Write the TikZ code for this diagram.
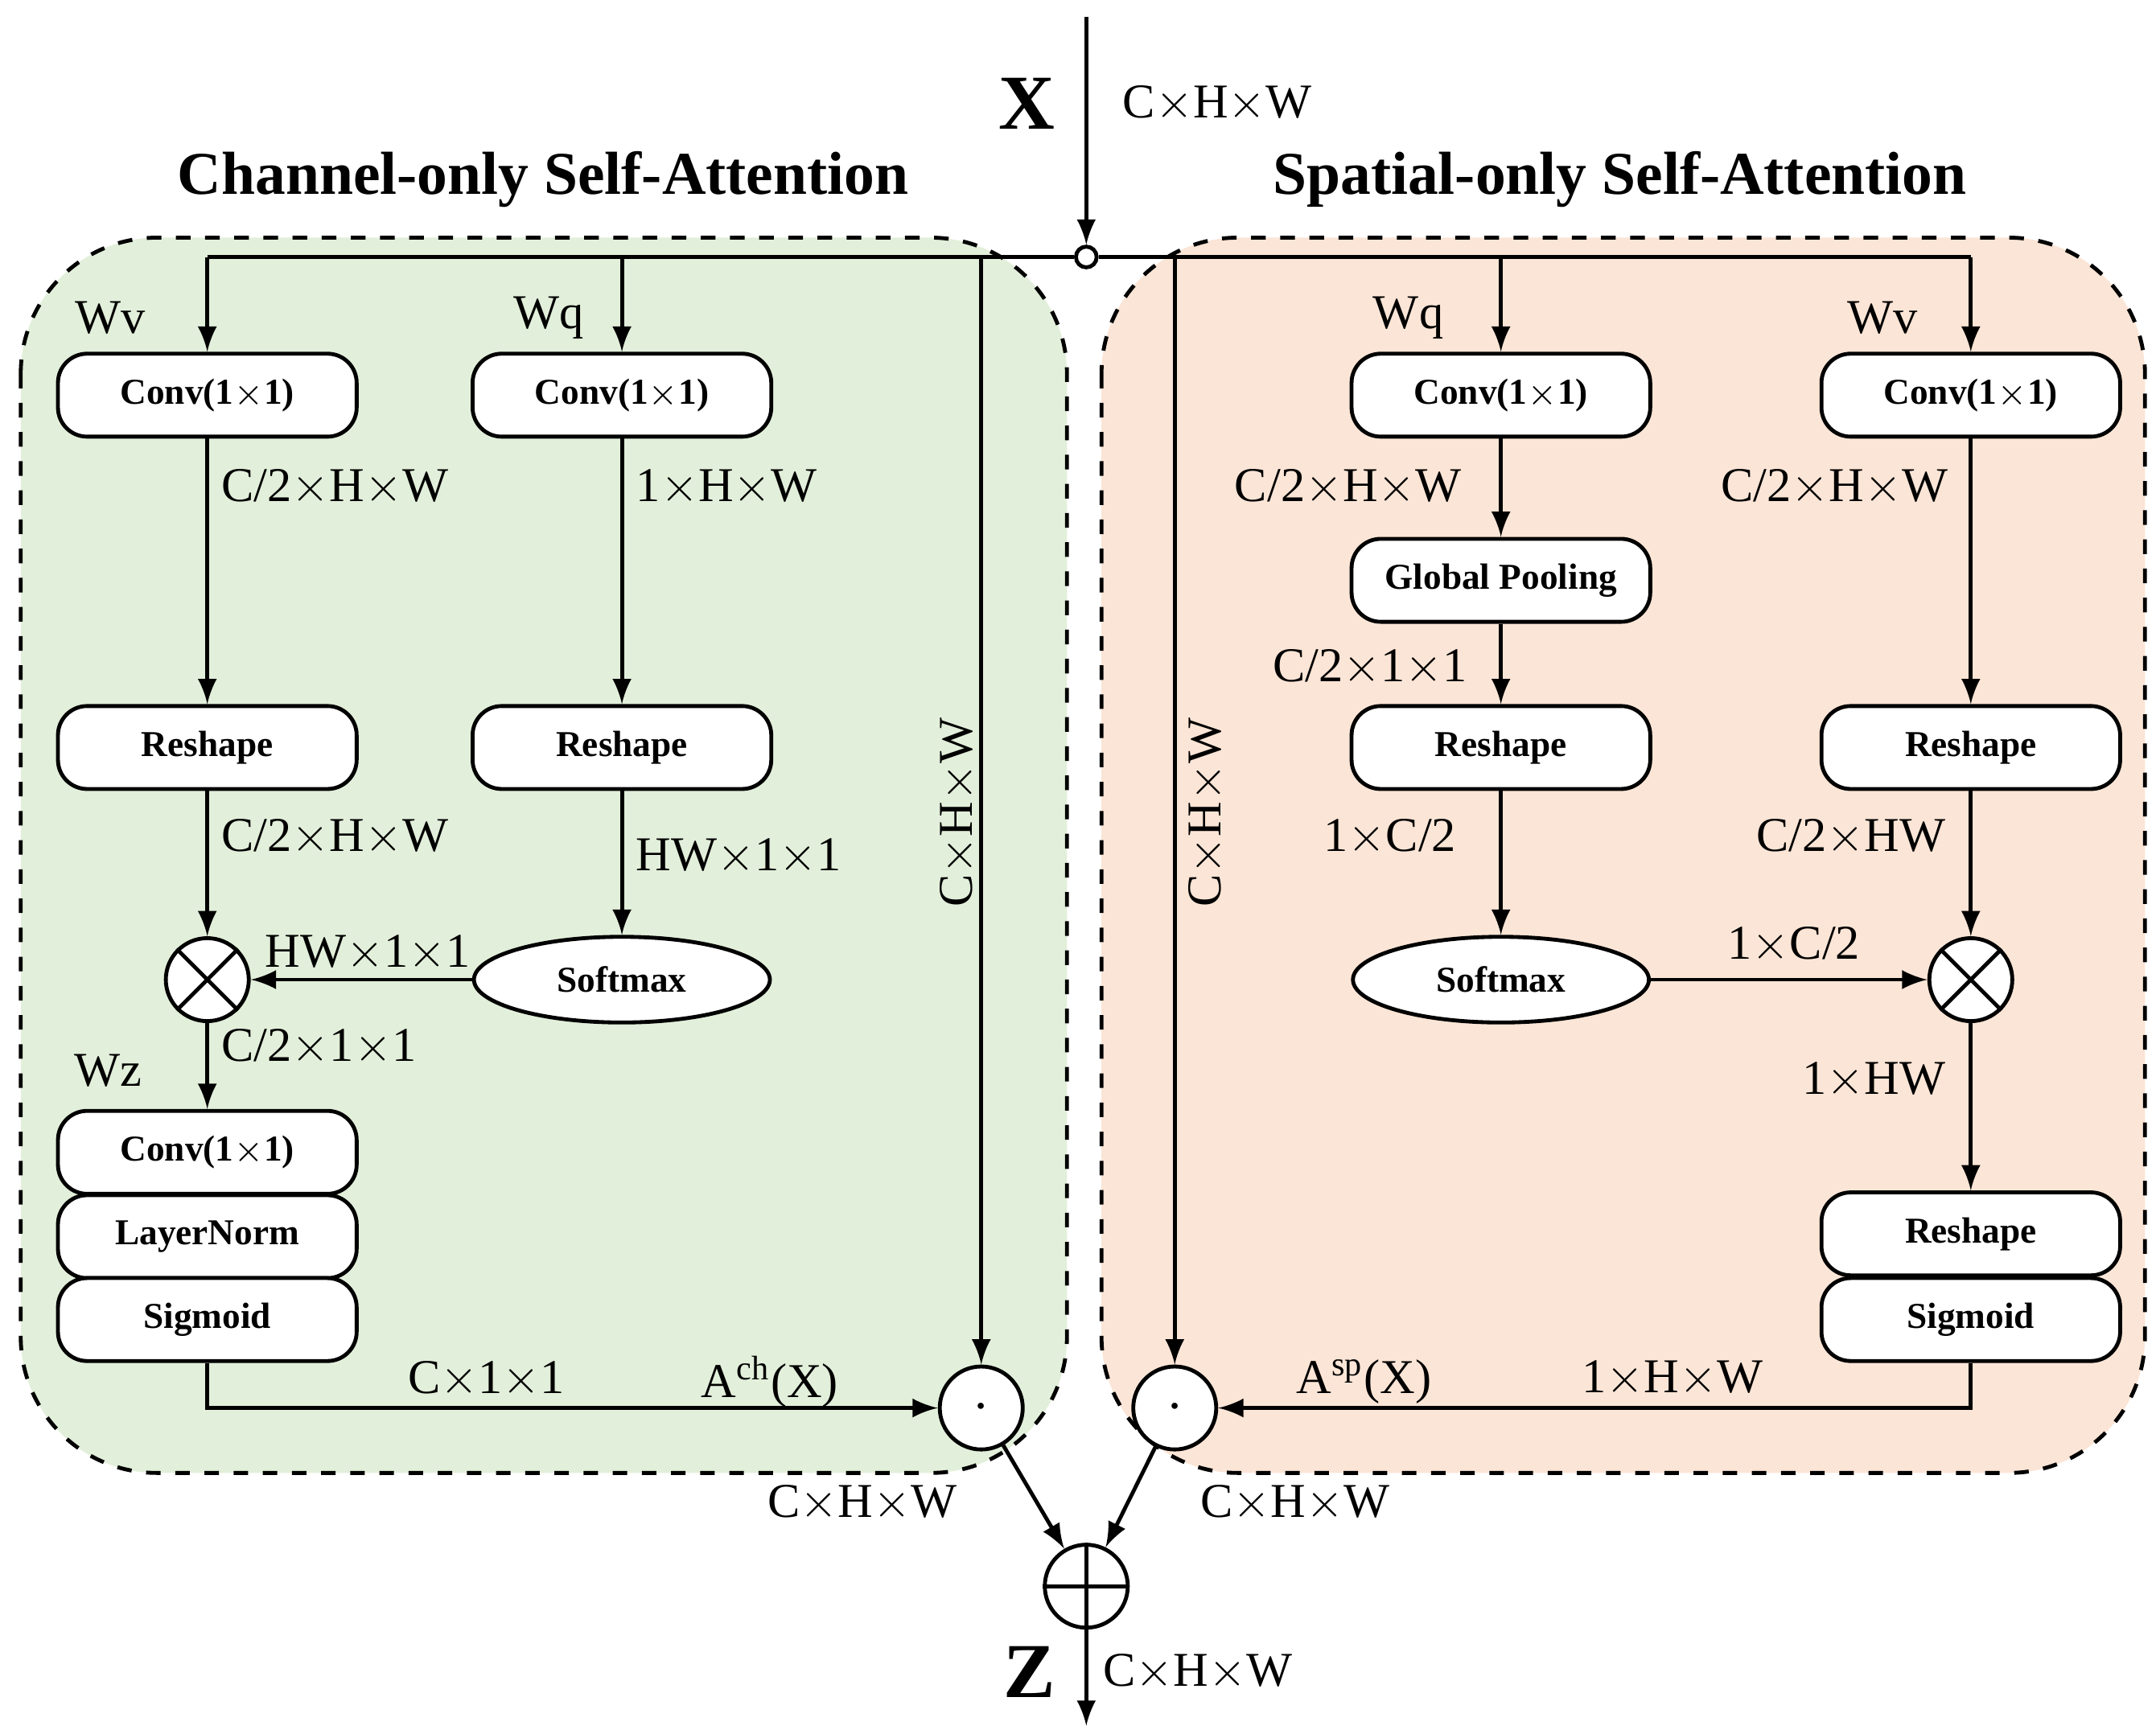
\documentclass[tikz,border=0pt]{standalone}
\usepackage{fontspec}
\setmainfont{Liberation Serif}
\usepackage{tikz}
\usetikzlibrary{arrows,shapes.geometric}

\definecolor{chgreen}{RGB}{226,239,218}
\definecolor{sporange}{RGB}{251,229,214}

\tikzset{
    blk/.style={draw, thick, rounded corners=6pt, fill=white, minimum width=2.16cm, minimum height=0.6cm, font=\fontsize{7.5}{9}\selectfont\bfseries},
    ell/.style={draw, thick, ellipse, fill=white, minimum width=2.14cm, minimum height=0.62cm, font=\fontsize{7.5}{9}\selectfont\bfseries},
    op/.style={draw, thick, circle, fill=white, minimum size=0.6cm, inner sep=0pt},
    lab/.style={font=\fontsize{10}{12}\selectfont},
    ttl/.style={font=\fontsize{12.5}{15}\selectfont\bfseries},
    arr/.style={thick, -latex},
    ln/.style={thick}
}

\begin{document}
\begin{tikzpicture}[x=0.01cm, y=-0.01cm]
\useasboundingbox (0,0) rectangle (1560,1249);

% panels
\draw[thick, dashed, rounded corners=28pt, fill=chgreen] (15,172) rectangle (772,1066);
\draw[thick, dashed, rounded corners=28pt, fill=sporange] (797,172) rectangle (1552,1066);
\node[ttl] at (393,130) {Channel-only Self-Attention};
\node[ttl] at (1172,130) {Spatial-only Self-Attention};

% input
\coordinate (in) at (786,12);
\node[draw, thick, circle, fill=white, inner sep=0pt, minimum size=0.15cm] (split) at (786,186) {};
\draw[arr] (in) -- (split);
\node[font=\fontsize{16}{19}\selectfont\bfseries] at (743,75) {X};
\node[lab, right] at (800,75) {C$\times$H$\times$W};

% channel branch
\node[blk] (cv1) at (150,286) {Conv(1$\times$1)};
\node[blk] (cq1) at (450,286) {Conv(1$\times$1)};
\node[blk] (rv1) at (150,541) {Reshape};
\node[blk] (rq1) at (450,541) {Reshape};
\node[ell] (sm1) at (450,709) {Softmax};
\node[op] (mul1) at (150,709) {};
\draw[thick] (mul1.north west) -- (mul1.south east) (mul1.north east) -- (mul1.south west);
\node[blk] (cz1) at (150,834) {Conv(1$\times$1)};
\node[blk] (ln1) at (150,895) {LayerNorm};
\node[blk] (sg1) at (150,955) {Sigmoid};
\node[op] (dot1) at (710,1019) {\large$\cdot$};

% spatial branch
\node[blk] (cq2) at (1086,286) {Conv(1$\times$1)};
\node[blk] (cv2) at (1426,286) {Conv(1$\times$1)};
\node[blk] (gp2) at (1086,420) {Global Pooling};
\node[blk] (rq2) at (1086,541) {Reshape};
\node[blk] (rv2) at (1426,541) {Reshape};
\node[ell] (sm2) at (1086,709) {Softmax};
\node[op] (mul2) at (1426,709) {};
\draw[thick] (mul2.north west) -- (mul2.south east) (mul2.north east) -- (mul2.south west);
\node[blk] (rs2) at (1426,893) {Reshape};
\node[blk] (sg2) at (1426,955) {Sigmoid};
\node[op] (dot2) at (850,1019) {\large$\cdot$};

% fusion
\node[op] (add) at (786,1148) {};
\draw[thick] (add.north) -- (add.south) (add.west) -- (add.east);
\coordinate (out) at (786,1249);

% split lines
\coordinate (tl) at (150,186);
\coordinate (tr) at (1426,186);
\draw[ln] (tl) -- (split) -- (tr);
\draw[arr] (tl) -- (cv1);
\draw[arr] (450,186) -- (cq1);
\draw[arr] (710,186) -- (dot1);
\draw[arr] (850,186) -- (dot2);
\draw[arr] (1086,186) -- (cq2);
\draw[arr] (tr) -- (cv2);

% channel flow
\draw[arr] (cv1) -- (rv1);
\draw[arr] (cq1) -- (rq1);
\draw[arr] (rq1) -- (sm1);
\draw[arr] (rv1) -- (mul1);
\draw[arr] (sm1) -- (mul1);
\draw[arr] (mul1) -- (cz1);
\draw[arr] (sg1.south) |- (dot1);

% spatial flow
\draw[arr] (cq2) -- (gp2);
\draw[arr] (gp2) -- (rq2);
\draw[arr] (rq2) -- (sm2);
\draw[arr] (cv2) -- (rv2);
\draw[arr] (rv2) -- (mul2);
\draw[arr] (sm2) -- (mul2);
\draw[arr] (mul2) -- (rs2);
\draw[arr] (sg2.south) |- (dot2);

\draw[arr] (dot1) -- (add);
\draw[arr] (dot2) -- (add);
\draw[arr] (add) -- (out);

% labels
\node[lab] at (80,230) {Wv};
\node[lab] at (397,230) {Wq};
\node[lab] at (1019,230) {Wq};
\node[lab] at (1362,230) {Wv};
\node[lab] at (78,775) {Wz};
\node[lab, right] at (148,353) {C/2$\times$H$\times$W};
\node[lab, right] at (448,353) {1$\times$H$\times$W};
\node[lab, right] at (148,606) {C/2$\times$H$\times$W};
\node[lab, right] at (448,620) {HW$\times$1$\times$1};
\node[lab] at (266,690) {HW$\times$1$\times$1};
\node[lab, right] at (148,758) {C/2$\times$1$\times$1};
\node[lab] at (352,998) {C$\times$1$\times$1};
\node[lab] at (557,1000) {A$^{\mathrm{ch}}$(X)};
\node[lab, rotate=90] at (693,588) {C$\times$H$\times$W};
\node[lab, rotate=90] at (873,588) {C$\times$H$\times$W};
\node[lab, left] at (1070,353) {C/2$\times$H$\times$W};
\node[lab, left] at (1422,353) {C/2$\times$H$\times$W};
\node[lab, left] at (1074,483) {C/2$\times$1$\times$1};
\node[lab, left] at (1066,606) {1$\times$C/2};
\node[lab, left] at (1420,606) {C/2$\times$HW};
\node[lab] at (1298,684) {1$\times$C/2};
\node[lab, left] at (1420,782) {1$\times$HW};
\node[lab] at (987,1000) {A$^{\mathrm{sp}}$(X)};
\node[lab] at (1210,998) {1$\times$H$\times$W};
\node[lab] at (624,1088) {C$\times$H$\times$W};
\node[lab] at (937,1088) {C$\times$H$\times$W};
\node[font=\fontsize{16}{19}\selectfont\bfseries] at (745,1210) {Z};
\node[lab, right] at (786,1210) {C$\times$H$\times$W};
\end{tikzpicture}
\end{document}
